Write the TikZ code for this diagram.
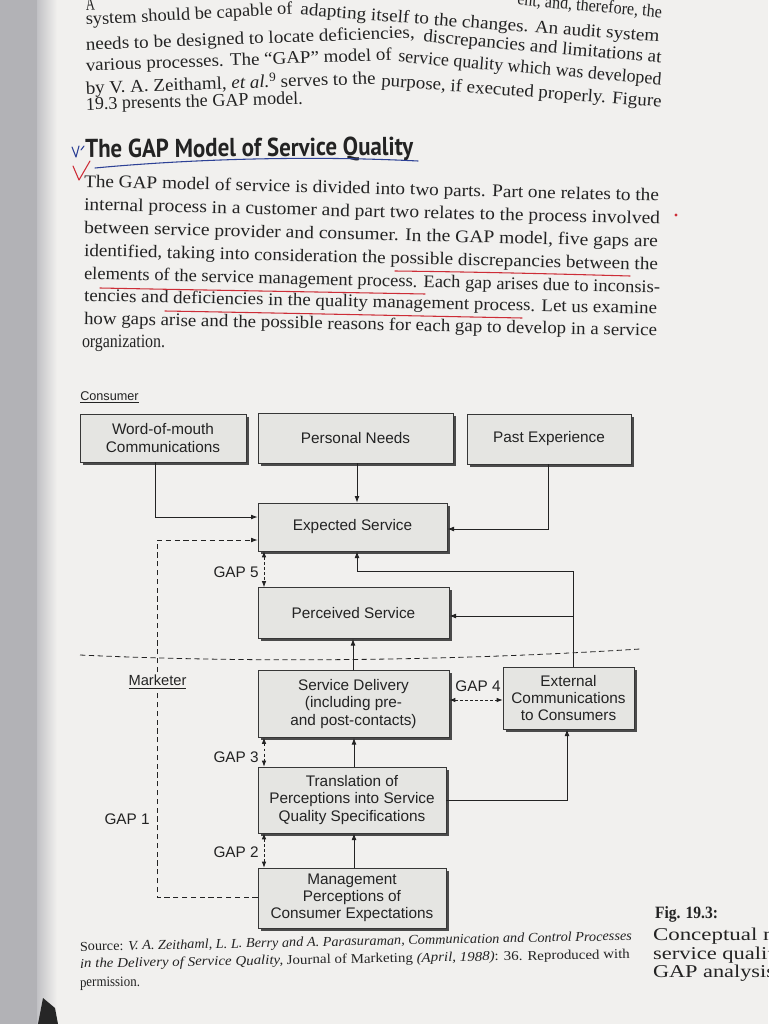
\documentclass[tikz,border=0pt]{standalone}
\usepackage{fontspec}
\usepackage{graphicx}
\setmainfont{Liberation Serif}
\newfontfamily\diagf{Liberation Sans}
\newfontfamily\headf{PT Sans}
\usetikzlibrary{arrows.meta,shadows}
\definecolor{paper}{RGB}{241,240,238}
\definecolor{ink}{RGB}{35,35,35}
\definecolor{boxfill}{RGB}{229,229,226}
\definecolor{boxline}{RGB}{55,55,55}
\definecolor{shade}{RGB}{75,75,75}
\definecolor{redpen}{RGB}{205,45,55}
\definecolor{bluepen}{RGB}{45,65,150}
\definecolor{gutter}{RGB}{178,178,182}
\newlength\pxu \setlength\pxu{0.75pt}
\newcounter{segc}
\newcommand\seg[6]{\stepcounter{segc}\node[anchor=base west,inner sep=0pt,outer sep=0pt,rotate=#3,text=ink] (seg\arabic{segc}) at (#1,#2) {\resizebox{#4\pxu}{#5\pxu}{#6}};}
\newcommand\bh{12.5}
\tikzset{
 box/.style={draw=boxline, fill=boxfill, line width=0.5pt, inner sep=1pt, align=center, text=ink,
   font=\diagf\fontsize{11.5pt}{12.8pt}\selectfont,
   drop shadow={shadow xshift=2.2pt, shadow yshift=-2.2pt, fill=shade, opacity=1}},
 lab/.style={font=\diagf\fontsize{11.5pt}{13pt}\selectfont, text=ink, inner sep=0pt},
 arr/.style={draw=ink, line width=0.6pt, -{Latex[length=5pt,width=3.6pt]}},
 dsh/.style={draw=ink, line width=0.6pt, dash pattern=on 4pt off 2.6pt},
 darr/.style={draw=ink, line width=0.6pt, {Latex[length=4.5pt,width=3.4pt]}-{Latex[length=4.5pt,width=3.4pt]}, dash pattern=on 2.2pt off 1.6pt},
 pen/.style={line width=0.8pt, line cap=round, line join=round},
}
\begin{document}
\begin{tikzpicture}[x=0.75pt,y=-0.75pt]
\useasboundingbox (0,0) rectangle (768,1024);
\clip (0,0) rectangle (768,1024);
% page
\fill[paper] (0,0) rectangle (768,1024);
\fill[gutter] (0,0) rectangle (37,1024);
\shade[left color=gutter!80!white, right color=paper] (37,0) rectangle (57,1024);
\fill[black!85] (38,1024) -- (43,998) -- (55,1008) -- (58,1024) -- cycle;

% top paragraph (curved page)
\seg{86}{11}{3}{9}{\bh}{A}
\seg{517}{5}{-5}{145}{\bh}{ent, and, therefore, the}
\seg{86}{25}{3}{207}{\bh}{system should be capable of}
\seg{300}{15}{-4.3}{360}{\bh}{adapting itself to the changes. An audit system}
\seg{86}{50}{2.1}{329}{\bh}{needs to be designed to locate deficiencies,}
\seg{423}{42}{-5}{239}{\bh}{discrepancies and limitations at}
\seg{86}{71}{2.0}{306}{\bh}{various processes. The “GAP” model of}
\seg{398}{62}{-5}{264}{\bh}{service quality which was developed}
\seg{86}{94}{2.0}{290}{\bh}{by V. A. Zeithaml, \textit{et al.}\smash{\raisebox{0.35em}{\scriptsize 9}} serves to the}
\seg{381}{86}{-4.3}{281}{\bh}{purpose, if executed properly. Figure}
\seg{86}{110}{1.6}{217}{\bh}{19.3 presents the GAP model.}

% heading
\node[anchor=base west, inner sep=0pt, rotate=0.5, text=ink] (head) at (85,158)
  {\resizebox{328\pxu}{18.5\pxu}{\headf\bfseries The GAP Model of Service Quality}};
\draw[bluepen, pen] (95,168) .. controls (180,160) and (300,155) .. (418,161);
\draw[bluepen, pen] (72,147) -- (76,157) -- (79,146) (81,150) -- (84,146);
\draw[redpen, pen] (73,166) -- (79,180) -- (90,161);

% second paragraph
\seg{84}{187}{-1.4}{575}{\bh}{The GAP model of service is divided into two parts. Part one relates to the}
\seg{84}{210}{-1.4}{576}{\bh}{internal process in a customer and part two relates to the process involved}
\seg{84}{233}{-1.4}{574}{\bh}{between service provider and consumer. In the GAP model, five gaps are}
\seg{84}{256}{-1.4}{574}{\bh}{identified, taking into consideration the possible discrepancies between the}
\seg{84}{279}{-1.4}{576}{\bh}{elements of the service management process. Each gap arises due to inconsis-}
\seg{84}{301}{-1.3}{573}{\bh}{tencies and deficiencies in the quality management process. Let us examine}
\seg{84}{324}{-1.2}{573}{\bh}{how gaps arise and the possible reasons for each gap to develop in a service}
\seg{82}{347}{-0.6}{83}{\bh}{organization.}
\draw[redpen, pen] (395,271) .. controls (480,272) and (560,274) .. (630,276);
\draw[redpen, pen] (100,288) .. controls (200,290) and (320,292) .. (425,294);
\draw[redpen, pen] (165,311) .. controls (280,313) and (420,316) .. (522,318);
\fill[redpen] (676,215) circle[radius=1.2pt];

% diagram
\node[anchor=west, inner sep=0pt, text=ink, font=\diagf\fontsize{9.5pt}{11pt}\selectfont] (cons) at (80,397) {\underline{Consumer}};

\node[box, minimum width=166\pxu, minimum height=48\pxu] (wom) at (163,438) {Word-of-mouth\\Communications};
\node[box, minimum width=195\pxu, minimum height=50\pxu] (pn) at (355.5,438) {Personal Needs};
\node[box, minimum width=164\pxu, minimum height=50\pxu] (pe) at (549,439) {Past Experience};
\node[box, minimum width=189\pxu, minimum height=48\pxu] (es) at (352.5,527) {Expected Service};
\node[box, minimum width=191\pxu, minimum height=51\pxu] (ps) at (353.5,613) {Perceived Service};
\node[box, minimum width=191\pxu, minimum height=67\pxu] (sd) at (353.5,704) {Service Delivery\\(including pre-\\and post-contacts)};
\node[box, minimum width=131\pxu, minimum height=62\pxu] (ec) at (568.5,698) {External\\Communications\\to Consumers};
\node[box, minimum width=188\pxu, minimum height=66\pxu] (tr) at (352,800) {Translation of\\Perceptions into Service\\Quality Specifications};
\node[box, minimum width=188\pxu, minimum height=60\pxu] (mp) at (352,898) {Management\\Perceptions of\\Consumer Expectations};

\draw[arr] (155,0 |- wom.south) |- (es.west |- 0,517);
\draw[arr] (357,0 |- pn.south) -- (357,0 |- es.north);
\draw[arr] (548,0 |- pe.south) |- (es.east |- 0,529);
\draw[arr] (573,0 |- ec.north) |- (357,571) -- (357,0 |- es.south);
\draw[arr] (573,616) -- (ps.east |- 0,616);
\draw[arr] (353,0 |- sd.north) -- (353,0 |- ps.south);
\draw[arr] (354,0 |- tr.north) -- (354,0 |- sd.south);
\draw[arr] (354,0 |- mp.north) -- (354,0 |- tr.south);
\draw[arr] (tr.east |- 0,800) -| (567,0 |- ec.south);
\draw[darr] (sd.east |- 0,700) -- (ec.west |- 0,700);
\draw[darr] (264,0 |- es.south) -- (264,0 |- ps.north);
\draw[darr] (264,0 |- sd.south) -- (264,0 |- tr.north);
\draw[darr] (264,0 |- tr.south) -- (264,0 |- mp.north);
\draw[dsh,-{Latex[length=5pt,width=3.6pt]}] (mp.west |- 0,897) -| (157,540) -- (es.west |- 0,540);
\draw[dsh] (80,655) .. controls (250,663) and (450,661) .. (640,649);

\node[anchor=west, inner ysep=2pt, inner xsep=1pt, fill=paper, text=ink, font=\diagf\fontsize{11pt}{12pt}\selectfont] (mark) at (127,682) {\underline{Marketer}};
\node[lab, anchor=east] (g5) at (259,572) {GAP 5};
\node[lab, anchor=east] (g3) at (259,757) {GAP 3};
\node[lab, anchor=east] (g2) at (259,852) {GAP 2};
\node[lab, anchor=east] (g1) at (150,819) {GAP 1};
\node[lab] (g4) at (478,686) {GAP 4};

% source and caption
\seg{80}{951}{1.1}{552}{9.5}{Source: \textit{V. A. Zeithaml, L. L. Berry and A. Parasuraman, Communication and Control Processes}}
\seg{80}{968}{1.0}{550}{9.5}{\textit{in the Delivery of Service Quality,} Journal of Marketing \textit{(April, 1988)}: 36. Reproduced with}
\seg{80}{987}{0.3}{60}{9.5}{permission.}
\seg{655}{918}{0}{63}{12}{\textbf{Fig. 19.3:}}
\seg{653}{940}{0}{128}{12.5}{Conceptual m}
\seg{653}{959}{0}{132}{12.5}{service quality}
\seg{653}{977}{0}{122}{12.5}{GAP analysis}
\end{tikzpicture}
\end{document}
